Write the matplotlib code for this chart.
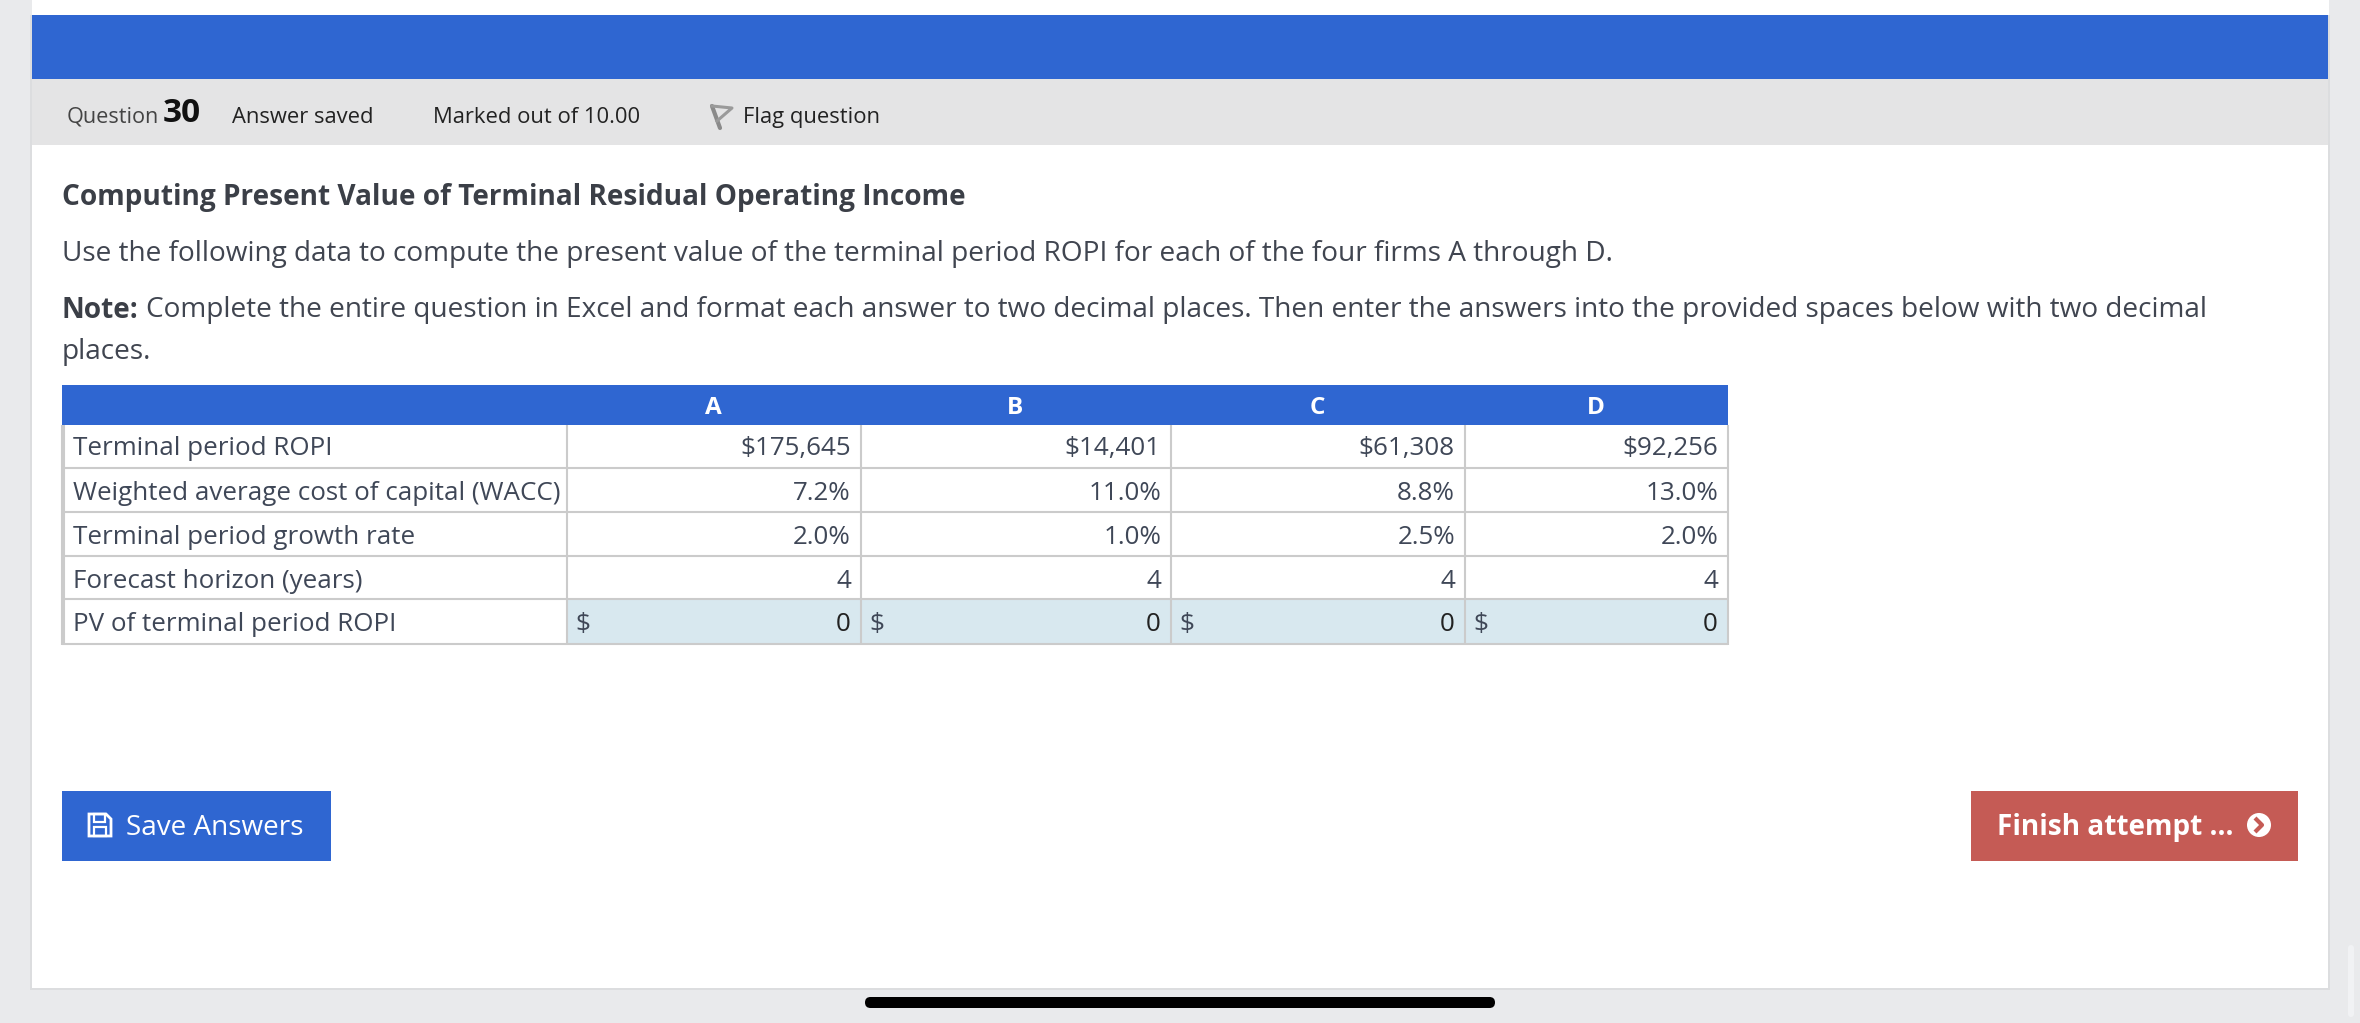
import matplotlib
matplotlib.use("Agg")
import matplotlib.pyplot as plt
from matplotlib.patches import Rectangle, Polygon, Circle, FancyBboxPatch

plt.rcParams['font.family'] = ['Open Sans', 'DejaVu Sans']

# ---- data ----
firms = ["A", "B", "C", "D"]
row_labels = ["Terminal period ROPI", "Weighted average cost of capital (WACC)",
              "Terminal period growth rate", "Forecast horizon (years)",
              "PV of terminal period ROPI"]
ropi = ["$175,645", "$14,401", "$61,308", "$92,256"]
wacc = ["7.2%", "11.0%", "8.8%", "13.0%"]
growth = ["2.0%", "1.0%", "2.5%", "2.0%"]
horizon = ["4", "4", "4", "4"]
pv_values = ["0", "0", "0", "0"]

BLUE = "#2F66D1"; BG = "#E9EAEC"; BAR = "#E4E4E5"; RED = "#C55B55"
CELL = "#D8E8EF"; LINE = "#CBCBCB"; TEXT = "#3F4757"; BODY = "#404550"; DARK = "#222222"

fig = plt.figure(figsize=(23.6, 10.23), dpi=100, facecolor=BG)
ax = fig.add_axes([0, 0, 1, 1])
ax.set_xlim(0, 2360); ax.set_ylim(1023, 0); ax.axis("off")

def rect(x0, y0, x1, y1, fc, z=1, ec="none", lw=0):
    ax.add_patch(Rectangle((x0, y0), x1 - x0, y1 - y0, fc=fc, ec=ec, lw=lw, zorder=z))

def txt(x, y, s, size=20, color=TEXT, weight="normal", ha="left"):
    ax.text(x, y, s, fontsize=size, color=color, fontweight=weight, ha=ha,
            va="baseline", zorder=5)

# page
rect(32, 0, 2329, 15, "#FFFFFF")
rect(30, 15, 2330, 990, "#DCDDDF")
rect(32, 15, 2328, 988, "#FFFFFF")
rect(32, 15, 2328, 79, BLUE, 2)
rect(32, 79, 2328, 145, BAR, 2)

# info bar
S = 15.85
txt(67, 123, "Question", 15.6, "#444444")
txt(163, 122, "30", 24, "#111111", "bold")
txt(232, 123, "Answer saved", S, DARK)
txt(433, 123, "Marked out of 10.00", S, DARK)
txt(743, 123, "Flag question", S, DARK)
ax.plot([712, 720], [106, 128], color="#8A8A8A", lw=3.0, zorder=5, solid_capstyle="round")
ax.plot([712, 732, 717], [106, 108, 121], color="#9A9A9A", lw=2.2, zorder=5, solid_joinstyle="round")

# heading and text
T_BODY = 20.17
txt(62, 205.5, "Computing Present Value of Terminal Residual Operating Income", T_BODY, "#3B3F47", "bold")
txt(62, 261.5, "Use the following data to compute the present value of the terminal period ROPI for each of the four firms A through D.", T_BODY, BODY)
txt(62, 317.5, "Note:", T_BODY, "#3B3F47", "bold")
txt(146, 317.5, "Complete the entire question in Excel and format each answer to two decimal places. Then enter the answers into the provided spaces below with two decimal", T_BODY, BODY)
txt(62, 359.5, "places.", T_BODY, BODY)

# table
col_edges = [62, 567, 861, 1171, 1465, 1728]
row_edges = [425, 468, 512, 556, 599, 644]
rect(col_edges[0], 385, col_edges[-1], row_edges[0], BLUE, 3)
for i, f in enumerate(firms):
    ax.text((col_edges[i + 1] + col_edges[i + 2]) / 2 - 1, 414, f, fontsize=17.5, color="white",
            fontweight="bold", ha="center", va="baseline", zorder=5)
rect(col_edges[1], row_edges[4], col_edges[-1], row_edges[5], CELL, 2)
for x in col_edges:
    ax.plot([x, x], [row_edges[0], row_edges[-1] + 1], color=LINE, lw=1.5, zorder=3, solid_capstyle="butt")
for y in row_edges[1:]:
    ax.plot([col_edges[0], col_edges[-1]], [y, y], color=LINE, lw=1.5, zorder=3, solid_capstyle="butt")
ax.plot([63.5, 63.5], [row_edges[0], row_edges[-1]], color=LINE, lw=1.5, zorder=3, solid_capstyle="butt")

rows = [ropi, wacc, growth, horizon]
baselines = [455, 499.5, 543.5, 587.5, 631]
T = 18.7
for lab, y in zip(row_labels, baselines):
    txt(73, y, lab, T)
for vals, y in zip(rows, baselines):
    for i, v in enumerate(vals):
        txt(col_edges[i + 2] - 10, y, v, T, ha="right")
for i, v in enumerate(pv_values):
    txt(col_edges[i + 2] - 10, baselines[4], v, T, "#222222", ha="right")
    txt(col_edges[i + 1] + 8, baselines[4], "$", T)

# buttons
rect(62, 791, 331, 861, BLUE, 2)
rect(1971, 791, 2298, 861, RED, 2)
txt(126, 835, "Save Answers", 20.1, "white")
ax.text(1997, 835, "Finish attempt ...", fontsize=20.2, color="white", fontweight="bold", zorder=5)
# save icon
ax.add_patch(Polygon([(89, 814), (106, 814), (111, 819), (111, 836), (89, 836)], closed=True,
                     fc="none", ec="white", lw=2.0, zorder=5))
ax.add_patch(Rectangle((94, 814), 11, 8, fc="none", ec="white", lw=1.6, zorder=5))
ax.add_patch(Rectangle((94, 827), 12, 9, fc="none", ec="white", lw=1.6, zorder=5))
# next icon
ax.add_patch(Circle((2259, 825), 12, fc="white", ec="none", zorder=5))
ax.plot([2255, 2262, 2255], [818, 825, 832], color=RED, lw=3.0, zorder=6, solid_capstyle="butt")

# device chrome
ax.add_patch(FancyBboxPatch((865, 997), 630, 11, boxstyle="round,pad=0,rounding_size=5.5",
                            fc="#000000", ec="#000000", lw=0, mutation_aspect=1, zorder=6))
ax.add_patch(FancyBboxPatch((2348, 945), 6, 72, boxstyle="round,pad=0,rounding_size=3",
                            fc="#F1F2F4", ec="none", zorder=6))

fig.savefig("out.png", dpi=100, facecolor=fig.get_facecolor())
